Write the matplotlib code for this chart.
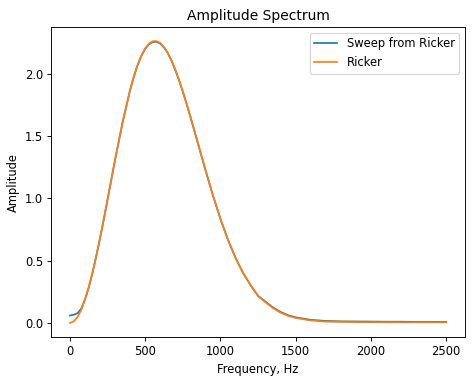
import matplotlib
matplotlib.use('Agg')
import matplotlib.pyplot as plt

# values
freq = [0, 25, 50, 75, 100, 125, 150, 175, 200, 225, 250, 300, 350, 400, 425,
        450, 475, 500, 525, 550, 575, 600, 625, 650, 675, 700, 725, 750, 775,
        800, 850, 900, 950, 1000, 1050, 1100, 1150, 1200, 1250, 1300, 1350,
        1400, 1450, 1500, 1600, 1700, 1800, 1900, 2000, 2100, 2200, 2300,
        2400, 2500]

ricker = [0.0, 0.012, 0.048, 0.106, 0.188, 0.288, 0.406, 0.539, 0.683, 0.836,
          0.994, 1.313, 1.614, 1.874, 1.982, 2.075, 2.150, 2.206, 2.244, 2.263,
          2.264, 2.248, 2.215, 2.168, 2.107, 2.033, 1.950, 1.859, 1.760, 1.657,
          1.444, 1.229, 1.024, 0.835, 0.667, 0.522, 0.401, 0.302, 0.215,
          0.165, 0.118, 0.082, 0.057, 0.040, 0.020, 0.011, 0.008, 0.007,
          0.006, 0.006, 0.005, 0.005, 0.005, 0.005]

sweep = [0.060, 0.066, 0.078, 0.115, 0.190, 0.288, 0.406, 0.539, 0.683, 0.836,
         0.994, 1.313, 1.614, 1.874, 1.981, 2.073, 2.147, 2.202, 2.239, 2.256,
         2.258, 2.244, 2.212, 2.166, 2.105, 2.031, 1.948, 1.857, 1.759, 1.656,
         1.443, 1.229, 1.024, 0.835, 0.667, 0.523, 0.402, 0.304, 0.218,
         0.170, 0.124, 0.088, 0.062, 0.045, 0.025, 0.016, 0.013, 0.012,
         0.011, 0.010, 0.010, 0.009, 0.009, 0.009]

dpi = 83
fig = plt.figure(figsize=(474 / dpi, 380 / dpi), dpi=dpi)
ax = fig.add_axes([0.108, 0.113, 0.873, 0.816])

ax.plot(freq, sweep, label='Sweep from Ricker')
ax.plot(freq, ricker, label='Ricker')
ax.set_title('Amplitude Spectrum')
ax.set_xlabel('Frequency, Hz')
ax.set_ylabel('Amplitude')
ax.set_yticks([0.0, 0.5, 1.0, 1.5, 2.0])
ax.legend()

fig.savefig('out.png', dpi=dpi)
